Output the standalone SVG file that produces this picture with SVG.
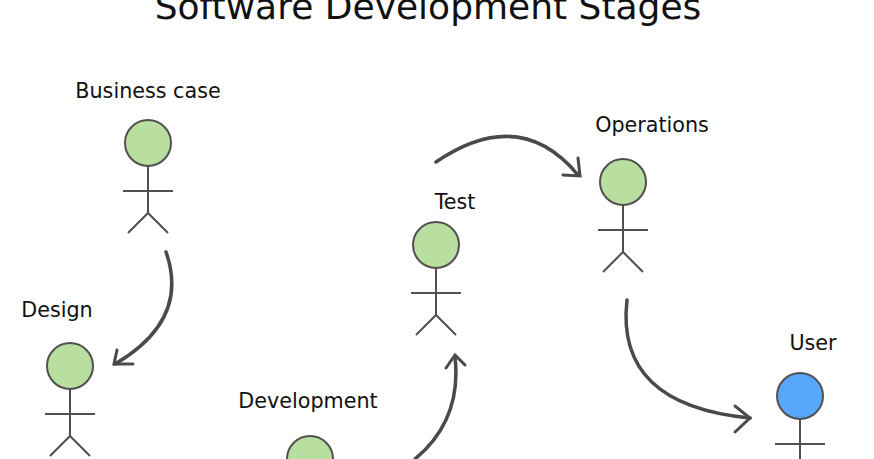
<svg xmlns="http://www.w3.org/2000/svg" width="874" height="459" viewBox="0 0 874 459">
<style>
text{font-family:"DejaVu Sans",sans-serif;fill:#111;text-anchor:middle}
.lbl{font-size:20.7px}
.head{fill:#b8df9f;stroke:#505050;stroke-width:2}
.user{fill:#57a8fa;stroke:#505050;stroke-width:2}
.st{stroke:#505050;stroke-width:2;fill:none}
.arr{stroke:#4a4a4e;stroke-width:3.5;fill:none;stroke-linecap:round}
.ah{stroke:#4a4a4e;stroke-width:3;fill:none;stroke-linecap:round}
</style>
<defs>
<g id="fig"><line class="st" x1="0" y1="23" x2="0" y2="70"/><line class="st" x1="-25" y1="48" x2="25" y2="48"/><polyline class="st" points="-20,90 0,70 20,90"/></g>
</defs>
<rect width="874" height="459" fill="#fff"/>
<text x="428" y="19" font-size="36">Software Development Stages</text>
<g id="business"><use href="#fig" x="148" y="143"/><circle class="head" cx="148" cy="143" r="23"/><text class="lbl" x="148" y="98">Business case</text></g>
<g id="design"><use href="#fig" x="70" y="366"/><circle class="head" cx="70" cy="366" r="23"/><text class="lbl" x="57" y="317">Design</text></g>
<g id="development"><use href="#fig" x="310" y="459"/><circle class="head" cx="310" cy="459" r="23"/><text class="lbl" x="308" y="408">Development</text></g>
<g id="test"><use href="#fig" x="436" y="245"/><circle class="head" cx="436" cy="245" r="23"/><text class="lbl" x="455" y="209">Test</text></g>
<g id="operations"><use href="#fig" x="623" y="182"/><circle class="head" cx="623" cy="182" r="23"/><text class="lbl" x="652" y="132">Operations</text></g>
<g id="user"><use href="#fig" x="800" y="396"/><circle class="user" cx="800" cy="396" r="23"/><text class="lbl" x="813" y="350">User</text></g>
<g id="connectors">
<path class="arr" d="M166,252 Q190,320 115,364"/><polyline class="ah" points="117,350 114,364 133,364"/>
<path class="arr" d="M415,459 Q462,420 455,357"/><polyline class="ah" points="446,368 455,355 465,365"/>
<path class="arr" d="M436,162 Q520,105 578,175"/><polyline class="ah" points="578,158 580,176 563,175"/>
<path class="arr" d="M627,300 Q615,405 750,418"/><polyline class="ah" points="735,406 750,418 735,432"/>
</g>
</svg>
